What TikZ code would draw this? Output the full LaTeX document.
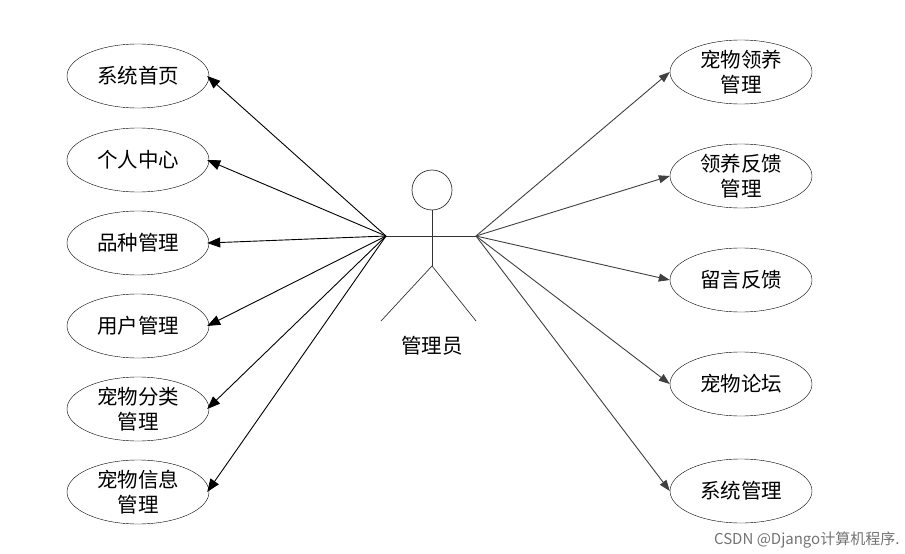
\documentclass[tikz,border=0pt]{standalone}
\usepackage{fontspec}
\newfontfamily\cjk{Noto Sans CJK SC}
\usetikzlibrary{shapes.geometric,arrows.meta}
\begin{document}
\begin{tikzpicture}[x=1pt,y=-1pt,
  uc/.style={draw,ellipse,minimum width=142,minimum height=64,inner sep=0,align=center,font=\cjk\fontsize{20.5}{25}\selectfont},
  la/.style={draw=black,line width=0.9,-{Triangle[length=13,width=10]}},
  ra/.style={draw=black!75,line width=0.9,-{Triangle[length=11,width=8]}},
  stick/.style={draw=black!80,line width=0.7}]
\useasboundingbox (0,0) rectangle (905,554);
\node[uc] (l1) at (138,76) {系统首页};
\node[uc] (l2) at (138,160) {个人中心};
\node[uc] (l3) at (138,243) {品种管理};
\node[uc] (l4) at (138,326) {用户管理};
\node[uc] (l5) at (138,409) {宠物分类\\管理};
\node[uc] (l6) at (138,492) {宠物信息\\管理};
\node[uc] (r1) at (741,72) {宠物领养\\管理};
\node[uc] (r2) at (741,176) {领养反馈\\管理};
\node[uc] (r3) at (741,280) {留言反馈};
\node[uc] (r4) at (741,384) {宠物论坛};
\node[uc] (r5) at (741,491) {系统管理};
\node[draw,circle,minimum size=40,inner sep=0,stick] (head) at (432,190) {};
\coordinate (al) at (386,236);
\coordinate (ar) at (476,236);
\coordinate (hip) at (432,266);
\coordinate (fl) at (381,321);
\coordinate (fr) at (476,321);
\draw[stick] (al) -- (ar);
\draw[stick] (head.south) -- (hip);
\draw[stick] (fl) -- (hip) -- (fr);
\node[font=\cjk\fontsize{20.5}{25}\selectfont] (act) at (432,346) {管理员};
\foreach \n in {l1,l2,l3,l4,l5,l6} \draw[la] (al) -- ([xshift=-2]\n.east);
\foreach \n in {r1,r2,r3,r4,r5} \draw[ra] (ar) -- (\n.west);
\node[anchor=east,text=black!55,font=\cjk\fontsize{15}{17}\selectfont] (wm) at (903,540) {CSDN @Django计算机程序.};
\end{tikzpicture}
\end{document}
